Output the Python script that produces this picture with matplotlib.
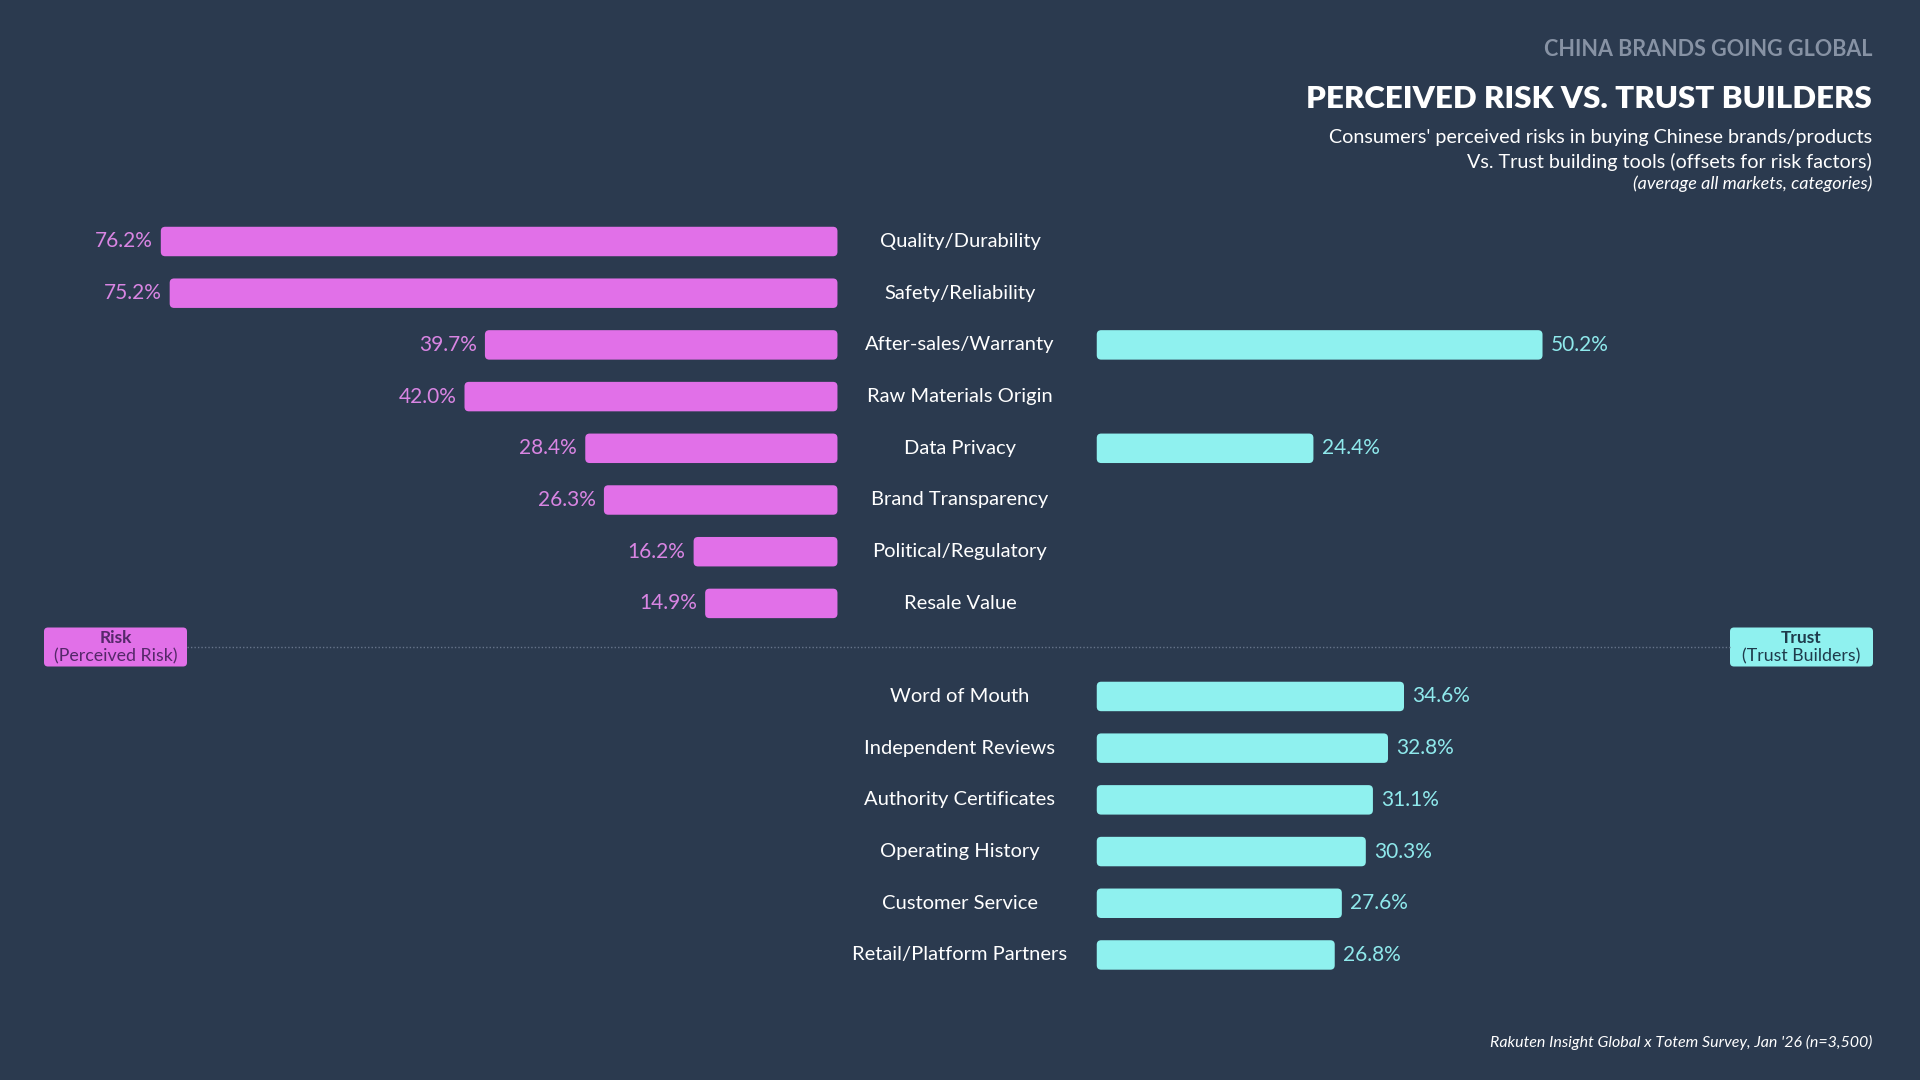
import matplotlib
matplotlib.use("Agg")
import matplotlib.pyplot as plt
from matplotlib.patches import FancyBboxPatch

# ==========================================
# Data
# ==========================================

risk_factors = [
    "Quality/Durability", "Safety/Reliability", "After-sales/Warranty",
    "Raw Materials Origin", "Data Privacy", "Brand Transparency",
    "Political/Regulatory", "Resale Value",
]
risk_values = [76.2, 75.2, 39.7, 42.0, 28.4, 26.3, 16.2, 14.9]
# trust tool that offsets the risk on the same row (None = no bar)
risk_row_trust = [None, None, 50.2, None, 24.4, None, None, None]

trust_tools = [
    "Word of Mouth", "Independent Reviews", "Authority Certificates",
    "Operating History", "Customer Service", "Retail/Platform Partners",
]
trust_values = [34.6, 32.8, 31.1, 30.3, 27.6, 26.8]

# ==========================================
# Style
# ==========================================

BG = "#2b3a4f"
PINK = "#e170e8"
PINK_TXT = "#d985e3"
CYAN = "#8ff1ef"
CYAN_TXT = "#8fe9ec"
FONT = ["Lato", "DejaVu Sans"]

W, H = 1920, 1080
PX_PER_PCT = 8.88          # horizontal scale of bars
ROW_PX = 51.7              # vertical spacing of rows
FIRST_ROW_PX = 241.5       # y of first row centre (from top)
RISK_END = -13.8           # risk bars end here (percent units, centre = 0)
TRUST_START = 15.4         # trust bars start here
BAR_H = 0.57               # in row units
TRUST_ROW0 = 8.8           # row index of first trust-only row

plt.rcParams["font.family"] = FONT

fig = plt.figure(figsize=(19.2, 10.8), dpi=100, facecolor=BG)

# bar axes: x in percent, y in rows
ax = fig.add_axes([0, 0, 1, 1])
ax.set_facecolor("none")
half = W / 2 / PX_PER_PCT
ax.set_xlim(-half, half)
top = -FIRST_ROW_PX / ROW_PX
ax.set_ylim((H - FIRST_ROW_PX) / ROW_PX, top)
ax.axis("off")

aspect = PX_PER_PCT / ROW_PX
radius = 0.5


def bar(x0, width, y):
    patch = FancyBboxPatch(
        (x0, y - BAR_H / 2), width, BAR_H,
        boxstyle=f"round,pad=0,rounding_size={radius}",
        mutation_aspect=aspect, linewidth=0,
    )
    ax.add_patch(patch)
    return patch


label_kw = dict(color="white", fontsize=14.5, ha="center", va="center")
value_kw = dict(fontsize=15, va="center", textcoords="offset points")

# risk rows
for i, (name, v, t) in enumerate(zip(risk_factors, risk_values, risk_row_trust)):
    p = bar(RISK_END - v, v, i)
    p.set_facecolor(PINK)
    ax.annotate(f"{v:.1f}%", (RISK_END - v, i), xytext=(-6, 0), ha="right",
                color=PINK_TXT, **value_kw)
    ax.text(0, i, name, **label_kw)
    if t is not None:
        p = bar(TRUST_START, t, i)
        p.set_facecolor(CYAN)
        ax.annotate(f"{t:.1f}%", (TRUST_START + t, i), xytext=(6, 0), ha="left",
                    color=CYAN_TXT, **value_kw)

# trust-only rows
for j, (name, v) in enumerate(zip(trust_tools, trust_values)):
    y = TRUST_ROW0 + j
    p = bar(TRUST_START, v, y)
    p.set_facecolor(CYAN)
    ax.annotate(f"{v:.1f}%", (TRUST_START + v, y), xytext=(6, 0), ha="left",
                color=CYAN_TXT, **value_kw)
    ax.text(0, y, name, **label_kw)

# ==========================================
# Overlay in pixels: header, divider, legend boxes, footer
# ==========================================

ov = fig.add_axes([0, 0, 1, 1])
ov.set_xlim(0, W)
ov.set_ylim(H, 0)
ov.axis("off")
ov.set_facecolor("none")

RIGHT = 1872
ov.text(RIGHT, 49, "CHINA BRANDS GOING GLOBAL", ha="right", va="center",
        color="#8792a4", fontsize=15.5, fontweight="bold")
ov.text(RIGHT, 99, "PERCEIVED RISK VS. TRUST BUILDERS", ha="right", va="center",
        color="white", fontsize=22.5, fontweight="heavy")
ov.text(RIGHT, 137, "Consumers' perceived risks in buying Chinese brands/products",
        ha="right", va="center", color="white", fontsize=14.2)
ov.text(RIGHT, 162, "Vs. Trust building tools (offsets for risk factors)",
        ha="right", va="center", color="white", fontsize=14.2)
ov.text(RIGHT, 184, "(average all markets, categories)", ha="right", va="center",
        color="white", fontsize=13, style="italic")

# divider
div_y = 647
ov.plot([187, 1730], [div_y, div_y], color="#66748a", lw=1, ls=(0, (1, 1.5)))

# legend boxes
for x0, title, sub, fc, tc in [
    (44, "Risk", "(Perceived Risk)", PINK, "#55286a"),
    (1730, "Trust", "(Trust Builders)", CYAN, "#1f3b4c"),
]:
    ov.add_patch(FancyBboxPatch((x0, div_y - 19.5), 143, 39,
                                boxstyle="round,pad=0,rounding_size=4",
                                facecolor=fc, linewidth=0))
    ov.text(x0 + 71.5, div_y - 9, title, ha="center", va="center",
            color=tc, fontsize=12.5, fontweight="bold")
    ov.text(x0 + 71.5, div_y + 9, sub, ha="center", va="center",
            color=tc, fontsize=12.8)

ov.text(RIGHT, 1042, "Rakuten Insight Global x Totem Survey, Jan '26 (n=3,500)",
        ha="right", va="center", color="white", fontsize=11.5, style="italic")

fig.savefig("out.png", dpi=100, facecolor=BG)
